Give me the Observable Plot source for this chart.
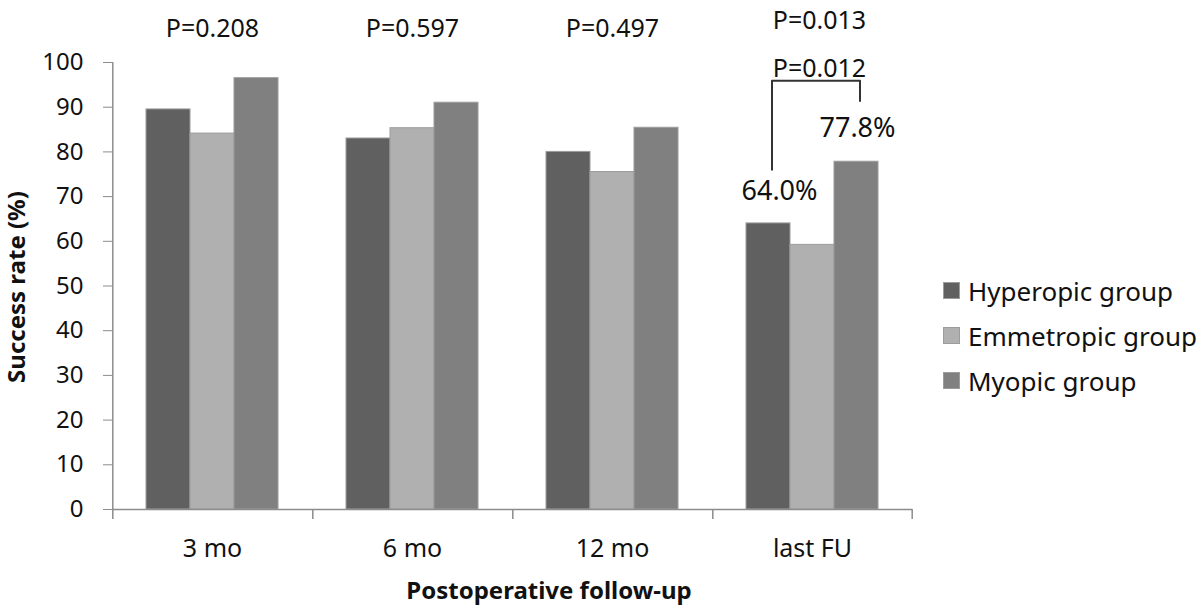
<!DOCTYPE html>
<html>
<head>
<meta charset="utf-8">
<script src="https://cdn.jsdelivr.net/npm/d3@7"></script>
<script src="https://cdn.jsdelivr.net/npm/@observablehq/plot@0.6"></script>
<style>
  body { margin: 0; background: #fff; font-family: "Noto Sans", "Open Sans", sans-serif; color: #111; }
  #wrap { position: relative; width: 1200px; height: 610px; overflow: hidden; }
  #xtitle { position: absolute; left: 549px; top: 578px; transform: translateX(-50%);
            font-weight: bold; font-size: 24px; line-height: 24px; white-space: nowrap; }
  #legend { position: absolute; left: 943px; top: 268px; }
  .row { display: flex; align-items: center; height: 45px; font-size: 26px; white-space: nowrap; }
  .sw { width: 17px; height: 17px; margin-right: 8px; box-sizing: border-box; border: 1px solid #9c9c9c; }
</style>
</head>
<body>
<div id="wrap">
  <div id="chart"></div>
  <div id="xtitle"></div>
  <div id="legend"></div>
</div>
<script>
// ---- data ----
const categories = ["3 mo", "6 mo", "12 mo", "last FU"];
const groups = ["Hyperopic group", "Emmetropic group", "Myopic group"];
const hyperopic  = [89.5, 83.0, 80.0, 64.0];
const emmetropic = [84.1, 85.3, 75.5, 59.2];
const myopic     = [96.5, 91.0, 85.4, 77.8];
const pValues = ["P=0.208", "P=0.597", "P=0.497", "P=0.013"];
const pairP = "P=0.012";
const yTicks = [0, 10, 20, 30, 40, 50, 60, 70, 80, 90, 100];
const colors = ["#606060", "#b0b0b0", "#808080"];
const yTitle = "Success rate (%)";
const xTitle = "Postoperative follow-up";
// bracket between hyperopic and myopic at last FU (annotation, data units)
const bracketGroups = ["Hyperopic group", "Hyperopic group", "Myopic group", "Myopic group"];
const bracketY = [76.0, 95.9, 95.9, 91.4];

// ---- tables ----
const series = [hyperopic, emmetropic, myopic];
const rows = categories.flatMap((c, i) => groups.map((g, j) => ({cat: c, group: g, value: series[j][i]})));
const pRows = categories.map((c, i) => ({cat: c, p: pValues[i]}));
const bracket = bracketGroups.map((g, i) => ({g, y: bracketY[i]}));
const lastFU = categories[categories.length - 1];

// ---- layout ----
const W = 1200, H = 610, ML = 111, MR = 287, MT = 62, MB = 101;
const facetW = (W - ML - MR) / categories.length;
const step = facetW / 4.5;
const edge = 1.25 * step;
const axisColor = "#8c8c8c";
const font = "'Noto Sans', 'Open Sans', sans-serif";

const chart = Plot.plot({
  width: W, height: H,
  marginLeft: ML, marginRight: MR, marginTop: MT, marginBottom: MB,
  style: {fontFamily: font, background: "white", overflow: "visible", color: "#111"},
  fx: {domain: categories, padding: 0, label: null},
  x: {domain: groups, paddingInner: 0, paddingOuter: 0.75, axis: null},
  y: {domain: [0, 100]},
  color: {domain: groups, range: colors},
  marks: [
    Plot.barY(rows, {fx: "cat", x: "group", y: "value", fill: "group", stroke: "#9c9c9c", strokeWidth: 1}),
    Plot.ruleY([0], {stroke: axisColor, strokeWidth: 1.5}),
    Plot.axisY({ticks: yTicks, tickSize: 9, tickPadding: 20, fontSize: 24, stroke: axisColor, fill: "#111", label: null}),
    Plot.axisFx({anchor: "bottom", tickSize: 0, tickPadding: 30, fontSize: 25, fill: "#111", label: null}),
    // y axis line
    Plot.ruleX([categories[0]], {fx: d => d, x: () => groups[0], y1: 0, y2: 100, dx: -edge, stroke: axisColor, strokeWidth: 1.5}),
    // category boundary ticks
    Plot.ruleX(categories, {fx: d => d, x: () => groups[0], y1: 0, dx: -edge, insetBottom: -10, stroke: axisColor, strokeWidth: 1.5}),
    Plot.ruleX([lastFU], {fx: d => d, x: () => groups[2], y1: 0, dx: edge, insetBottom: -10, stroke: axisColor, strokeWidth: 1.5}),
    // p values
    Plot.text(pRows.filter(d => d.cat !== lastFU), {fx: "cat", x: () => groups[1], frameAnchor: "top", dy: -43, text: "p", fontSize: 25, fill: "#111"}),
    Plot.text(pRows.filter(d => d.cat === lastFU), {fx: "cat", x: () => groups[1], frameAnchor: "top", dy: -51, dx: 7, text: "p", fontSize: 25, fill: "#111"}),
    Plot.text([pairP], {fx: () => lastFU, x: () => groups[1], frameAnchor: "top", dy: -3, dx: 7, text: d => d, fontSize: 25, fill: "#111"}),
    // bracket
    Plot.line(bracket, {fx: () => lastFU, x: "g", y: "y", dx: 3.5, stroke: "#333", strokeWidth: 2}),
    // value labels
    Plot.text(rows.filter(d => d.cat === lastFU && d.group === groups[0]), {fx: "cat", x: "group", y: "value", dy: -32, dx: 11, text: d => d.value.toFixed(1) + "%", fontSize: 27, fill: "#111"}),
    Plot.text(rows.filter(d => d.cat === lastFU && d.group === groups[2]), {fx: "cat", x: "group", y: "value", dy: -33, dx: 1, text: d => d.value.toFixed(1) + "%", fontSize: 27, fill: "#111"})
  ]
});
// y-axis title as SVG text
d3.select(chart).append("text")
  .attr("transform", "translate(15,287) rotate(-90)")
  .attr("text-anchor", "middle")
  .attr("dominant-baseline", "central")
  .attr("font-family", font)
  .attr("font-weight", "bold")
  .attr("font-size", 24)
  .attr("fill", "#111")
  .text(yTitle);
document.getElementById("chart").appendChild(chart);
document.getElementById("xtitle").textContent = xTitle;
const legend = document.getElementById("legend");
groups.forEach((g, i) => {
  const row = document.createElement("div");
  row.className = "row";
  const sw = document.createElement("span");
  sw.className = "sw";
  sw.style.background = colors[i];
  row.appendChild(sw);
  row.appendChild(document.createTextNode(g));
  legend.appendChild(row);
});
</script>
</body>
</html>
